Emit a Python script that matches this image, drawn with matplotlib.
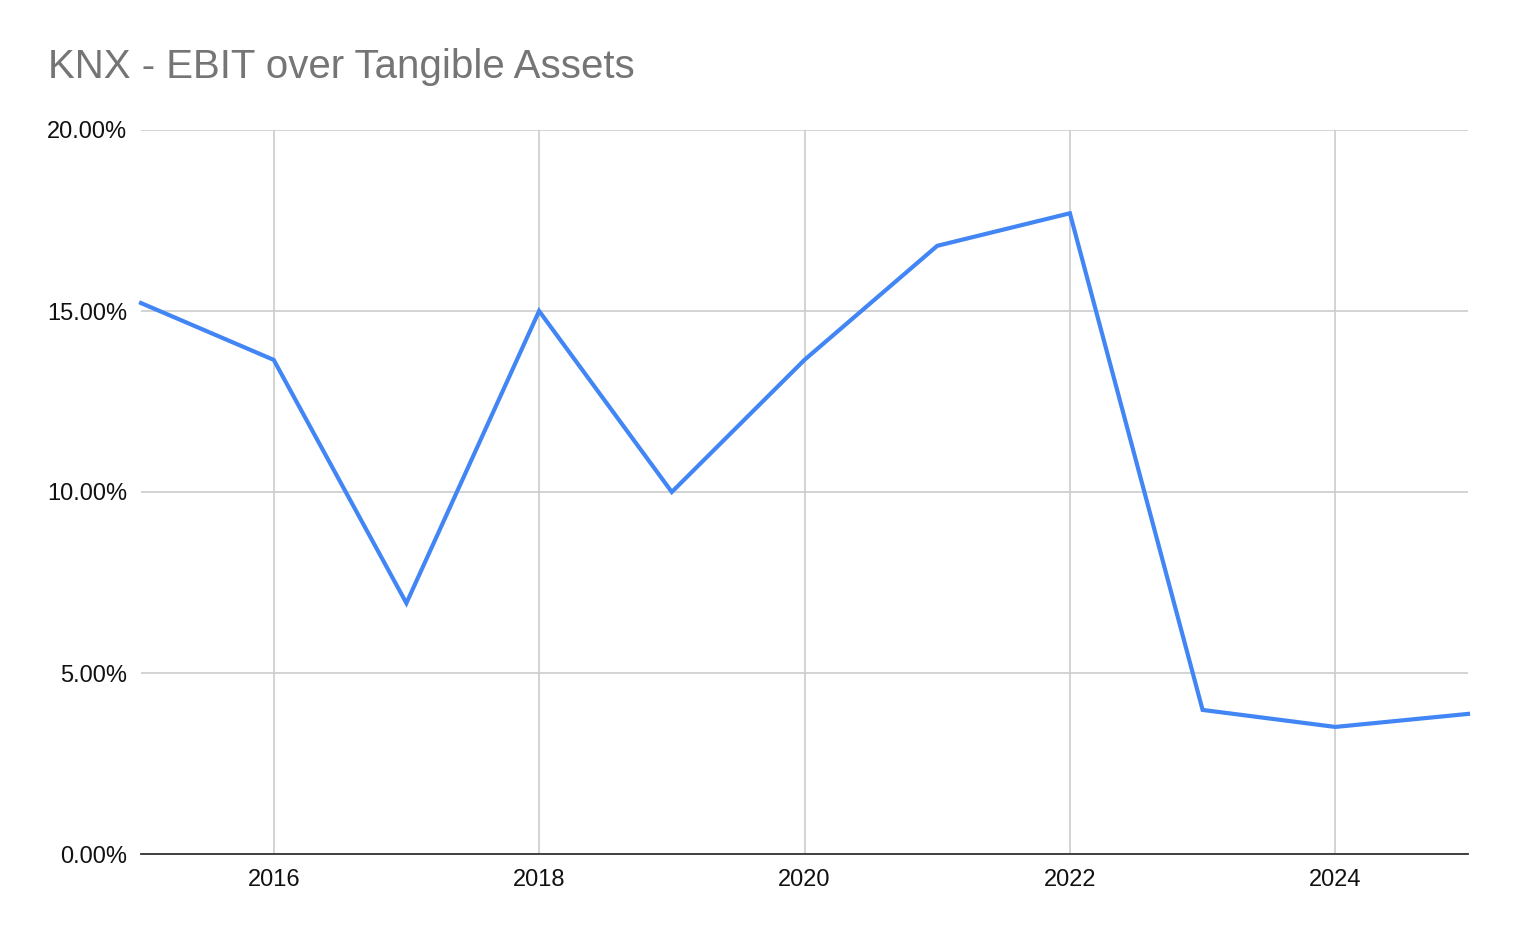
import matplotlib
matplotlib.use("Agg")
import matplotlib.pyplot as plt
from matplotlib.ticker import FuncFormatter, MultipleLocator

years = [2015, 2016, 2017, 2018, 2019, 2020, 2021, 2022, 2023, 2024, 2025]
values = [15.22, 13.65, 6.93, 15.00, 10.00, 13.65, 16.80, 17.70, 3.98, 3.51, 3.87]
title = "KNX - EBIT over Tangible Assets"

plt.rcParams['font.family'] = ['Liberation Sans', 'DejaVu Sans']

fig = plt.figure(figsize=(15.15, 9.38), dpi=100)
ax = fig.add_axes([141/1515, 1-854/938, (1468-141)/1515, (854-130)/938])

ax.plot(years, values, color='#4285f4', linewidth=3, solid_joinstyle='miter', zorder=3, clip_on=False)

ax.set_xlim(2015, 2025)
ax.set_ylim(0, 20)
ax.set_xticks([2016, 2018, 2020, 2022, 2024])
ax.yaxis.set_major_locator(MultipleLocator(5))
ax.yaxis.set_major_formatter(FuncFormatter(lambda v, p: f"{v:.2f}%"))

ax.grid(True, color='#cccccc', linewidth=1.2)
for s in ['top', 'right', 'left']:
    ax.spines[s].set_visible(False)
ax.spines['bottom'].set_color('#333333')
ax.spines['bottom'].set_linewidth(1.3)
ax.tick_params(axis='both', length=0, labelsize=17, colors='#111111')
ax.tick_params(axis='x', pad=10.5)
ax.tick_params(axis='y', pad=10)

fig.text(48/1515, 1-67/938, title, fontsize=29, color='#757575', va='center', ha='left')

fig.savefig("out.png", dpi=100)
